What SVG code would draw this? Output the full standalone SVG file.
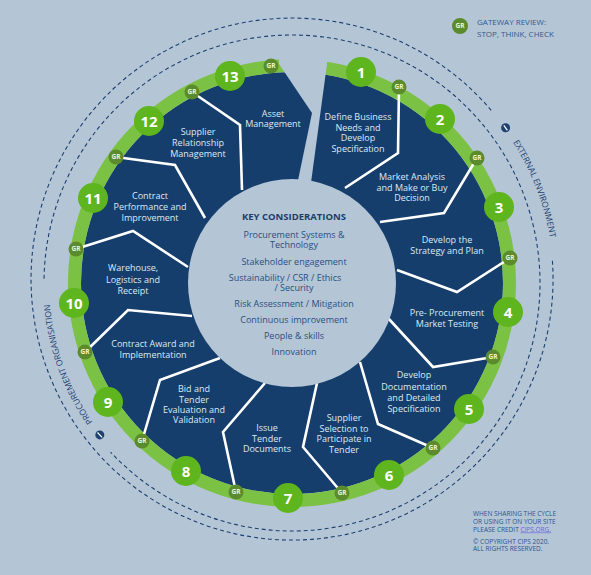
<svg xmlns="http://www.w3.org/2000/svg" width="591" height="575" viewBox="0 0 591 575">
<defs>
<style>
.seg{font-family:"Open Sans","Liberation Sans",sans-serif;font-size:9px;fill:#dfe9f3;text-anchor:middle}
.kc{font-family:"Open Sans","Liberation Sans",sans-serif;font-size:9px;fill:#2a4f80;text-anchor:middle}
.kh{font-family:"Open Sans","Liberation Sans",sans-serif;font-size:9.5px;font-weight:bold;fill:#1b3d6b;text-anchor:middle}
.num{fill:#5eb51d}
.numt{font-family:"Open Sans","Liberation Sans",sans-serif;font-size:15px;font-weight:bold;fill:#ffffff;text-anchor:middle}
.gr{fill:#5b8b2c}
.grt{font-family:"Open Sans","Liberation Sans",sans-serif;font-size:6.5px;font-weight:bold;fill:#eef3cf;text-anchor:middle}
.sep{fill:none;stroke:#ffffff;stroke-width:2.6;stroke-linejoin:miter}
.dash{fill:none;stroke:#1e4170;stroke-width:1.1;stroke-dasharray:4 3}
.lbl{font-family:"Open Sans","Liberation Sans",sans-serif;font-size:8.5px;fill:#1e4170}
.leg{font-family:"Open Sans","Liberation Sans",sans-serif;font-size:8px;fill:#2f5a90}
.note{font-family:"Open Sans","Liberation Sans",sans-serif;font-size:6.5px;fill:#2b5490}
</style>
<path id="extPath" d="M460.4,82.3 A262,262 0 0 1 538.2,372.6"/>
<path id="procPath" d="M135.8,469.1 A243,243 0 0 1 52.7,240.8"/>
</defs>
<rect x="0" y="0" width="591" height="575" fill="#b4c5d6"/>

<g id="outer-rings">
<path class="dash" d="M44.04,278.67 A248,248 0 1 1 110.6,452.1"/>
<path class="dash" d="M552.4,260.8 A261,261 0 1 1 491.9,111.2"/>
</g>

<g id="disc">
<circle cx="292" cy="283" r="211" fill="#153e6c"/>
<circle cx="292" cy="283" r="217.5" fill="none" stroke="#7bc143" stroke-width="13"/>
<polygon points="279,40 279,64 312,113 296,190 310,190 327,64 327,40" fill="#b4c5d6"/>
</g>

<g id="connectors">
<polyline class="sep" points="399,87 398,153 345,188"/>
<polyline class="sep" points="477,158 444,213 380,222"/>
<polyline class="sep" points="510,258 457,292 397,270"/>
<polyline class="sep" points="493,357 433,367 388,318"/>
<polyline class="sep" points="433,448 378,424 360,362"/>
<polyline class="sep" points="342,493 303,447 317,383"/>
<polyline class="sep" points="236,492 223,432 265,383"/>
<polyline class="sep" points="142,441 160,380 220,358"/>
<polyline class="sep" points="85,352 128,310 192,316"/>
<polyline class="sep" points="76,249 133,231 188,267"/>
<polyline class="sep" points="116,157 175,165 205,218"/>
<polyline class="sep" points="192,92 240,125 242,190"/>
</g>

<g id="key-considerations">
<circle cx="292" cy="283" r="104" fill="#b4c5d6"/>
<text class="kh" x="294" y="220">KEY CONSIDERATIONS</text>
<text class="kc" x="294" y="238">Procurement Systems &amp;</text>
<text class="kc" x="294" y="248">Technology</text>
<text class="kc" x="294" y="265">Stakeholder engagement</text>
<text class="kc" x="285" y="281">Sustainability / CSR / Ethics</text>
<text class="kc" x="294" y="291">/ Security</text>
<text class="kc" x="294" y="307">Risk Assessment / Mitigation</text>
<text class="kc" x="294" y="323">Continuous improvement</text>
<text class="kc" x="294" y="339">People &amp; skills</text>
<text class="kc" x="294" y="355">Innovation</text>
</g>

<g id="step-1"><text class="seg" x="358" y="120">Define Business</text><text class="seg" x="358" y="130.5">Needs and</text><text class="seg" x="358" y="141">Develop</text><text class="seg" x="358" y="151.5">Specification</text>
<circle class="num" cx="361" cy="72" r="15"/><text class="numt" x="361" y="77.5">1</text></g>
<g id="step-2"><text class="seg" x="412" y="180">Market Analysis</text><text class="seg" x="412" y="190.5">and Make or Buy</text><text class="seg" x="412" y="201">Decision</text>
<circle class="num" cx="440" cy="119" r="15"/><text class="numt" x="440" y="124.5">2</text></g>
<g id="step-3"><text class="seg" x="447" y="243">Develop the</text><text class="seg" x="447" y="254">Strategy and Plan</text>
<circle class="num" cx="499" cy="207" r="15"/><text class="numt" x="499" y="212.5">3</text></g>
<g id="step-4"><text class="seg" x="447" y="316">Pre- Procurement</text><text class="seg" x="447" y="327">Market Testing</text>
<circle class="num" cx="508" cy="312" r="15"/><text class="numt" x="508" y="317.5">4</text></g>
<g id="step-5"><text class="seg" x="414" y="378">Develop</text><text class="seg" x="414" y="389.5">Documentation</text><text class="seg" x="414" y="400.5">and Detailed</text><text class="seg" x="414" y="411.5">Specification</text>
<circle class="num" cx="469" cy="409" r="15"/><text class="numt" x="469" y="414.5">5</text></g>
<g id="step-6"><text class="seg" x="344" y="421">Supplier</text><text class="seg" x="344" y="432">Selection to</text><text class="seg" x="344" y="442">Participate in</text><text class="seg" x="344" y="453">Tender</text>
<circle class="num" cx="389" cy="475" r="15"/><text class="numt" x="389" y="480.5">6</text></g>
<g id="step-7"><text class="seg" x="267" y="431">Issue</text><text class="seg" x="267" y="442">Tender</text><text class="seg" x="267" y="452">Documents</text>
<circle class="num" cx="288" cy="498" r="15"/><text class="numt" x="288" y="503.5">7</text></g>
<g id="step-8"><text class="seg" x="194" y="392">Bid and</text><text class="seg" x="194" y="403">Tender</text><text class="seg" x="194" y="413">Evaluation and</text><text class="seg" x="194" y="423">Validation</text>
<circle class="num" cx="186" cy="471" r="15"/><text class="numt" x="186" y="476.5">8</text></g>
<g id="step-9"><text class="seg" x="153" y="347">Contract Award and</text><text class="seg" x="153" y="358">Implementation</text>
<circle class="num" cx="108" cy="402" r="15"/><text class="numt" x="108" y="407.5">9</text></g>
<g id="step-10"><text class="seg" x="133" y="271">Warehouse,</text><text class="seg" x="133" y="283">Logistics and</text><text class="seg" x="133" y="294">Receipt</text>
<circle class="num" cx="74" cy="303" r="15"/><text class="numt" x="74" y="308.5">10</text></g>
<g id="step-11"><text class="seg" x="150" y="199">Contract</text><text class="seg" x="150" y="210">Performance and</text><text class="seg" x="150" y="221">Improvement</text>
<circle class="num" cx="93" cy="198" r="15"/><text class="numt" x="93" y="203.5">11</text></g>
<g id="step-12"><text class="seg" x="198" y="135">Supplier</text><text class="seg" x="198" y="146">Relationship</text><text class="seg" x="198" y="157">Management</text>
<circle class="num" cx="149" cy="121" r="15"/><text class="numt" x="149" y="126.5">12</text></g>
<g id="step-13"><text class="seg" x="273" y="117">Asset</text><text class="seg" x="273" y="127">Management</text>
<circle class="num" cx="230" cy="76" r="15"/><text class="numt" x="230" y="81.5">13</text></g>

<g id="gateways">
<circle class="gr" cx="399" cy="87" r="7.5"/><text class="grt" x="399" y="89.3">GR</text>
<circle class="gr" cx="477" cy="158" r="7.5"/><text class="grt" x="477" y="160.3">GR</text>
<circle class="gr" cx="510" cy="258" r="7.5"/><text class="grt" x="510" y="260.3">GR</text>
<circle class="gr" cx="493" cy="357" r="7.5"/><text class="grt" x="493" y="359.3">GR</text>
<circle class="gr" cx="433" cy="448" r="7.5"/><text class="grt" x="433" y="450.3">GR</text>
<circle class="gr" cx="342" cy="493" r="7.5"/><text class="grt" x="342" y="495.3">GR</text>
<circle class="gr" cx="236" cy="492" r="7.5"/><text class="grt" x="236" y="494.3">GR</text>
<circle class="gr" cx="142" cy="441" r="7.5"/><text class="grt" x="142" y="443.3">GR</text>
<circle class="gr" cx="85" cy="352" r="7.5"/><text class="grt" x="85" y="354.3">GR</text>
<circle class="gr" cx="76" cy="249" r="7.5"/><text class="grt" x="76" y="251.3">GR</text>
<circle class="gr" cx="116" cy="157" r="7.5"/><text class="grt" x="116" y="159.3">GR</text>
<circle class="gr" cx="192" cy="92" r="7.5"/><text class="grt" x="192" y="94.3">GR</text>
<circle class="gr" cx="271" cy="66" r="7.5"/><text class="grt" x="271" y="68.3">GR</text>
</g>

<g id="label-external">
<circle cx="505.6" cy="127.8" r="4.5" fill="#1e4170"/>
<line x1="503.8" y1="125.3" x2="507.4" y2="130.3" stroke="#ffffff" stroke-width="1.2"/>
<text class="lbl"><textPath href="#extPath" startOffset="80">EXTERNAL ENVIRONMENT</textPath></text>
</g>
<g id="label-procurement">
<circle cx="99.8" cy="434.9" r="4.5" fill="#1e4170"/>
<line x1="97.5" y1="432.5" x2="102.1" y2="437.3" stroke="#ffffff" stroke-width="1.2"/>
<text class="lbl"><textPath href="#procPath" startOffset="64">PROCUREMENT ORGANISATION</textPath></text>
</g>

<g id="legend">
<circle class="gr" cx="460" cy="26" r="8"/><text class="grt" x="460" y="28.4">GR</text>
<text class="leg" x="477" y="25">GATEWAY REVIEW:</text>
<text class="leg" x="477" y="37">STOP, THINK, CHECK</text>
</g>

<g id="credit">
<text class="note" x="473" y="515.5">WHEN SHARING THE CYCLE</text>
<text class="note" x="473" y="523.5">OR USING IT ON YOUR SITE</text>
<text class="note" x="473" y="531.5">PLEASE CREDIT <tspan fill="#6b67d6" text-decoration="underline">CIPS.ORG.</tspan></text>
<text class="note" x="473" y="543.5">© COPYRIGHT CIPS 2020.</text>
<text class="note" x="473" y="551">ALL RIGHTS RESERVED.</text>
</g>
</svg>
